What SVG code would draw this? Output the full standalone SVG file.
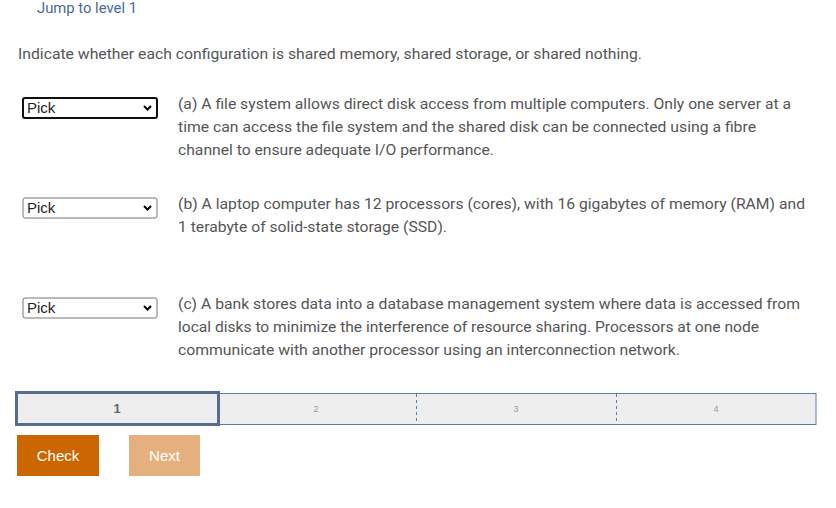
<svg xmlns="http://www.w3.org/2000/svg" width="836" height="508" viewBox="0 0 836 508">
<style>
.t{font-family:Roboto,"Liberation Sans",sans-serif;font-size:15px;fill:#555}
.s{font-family:"Liberation Sans",Arial,sans-serif;font-size:15px;fill:#222}
.sel{fill:#fff;stroke:#767676;stroke-width:1}
.chev{fill:none;stroke:#000;stroke-width:2}
.pg{font-family:"Liberation Sans",sans-serif;font-size:9px;fill:#999;text-anchor:middle}
</style>
<rect width="836" height="508" fill="#fff"/>
<text x="37" y="13" class="t" style="fill:#4a6a9a;font-size:14px" textLength="100" lengthAdjust="spacingAndGlyphs">Jump to level 1</text>
<text x="18" y="59" class="t" textLength="624" lengthAdjust="spacingAndGlyphs">Indicate whether each configuration is shared memory, shared storage, or shared nothing.</text>
<g id="qa">
<rect x="23" y="98" width="134" height="20" rx="2" class="sel" style="stroke:#111;stroke-width:2"/>
<text x="27" y="113" class="s">Pick</text><path d="M144 106l3.5 3.5 3.5-3.5" class="chev"/>
<text x="178" y="109" class="t" textLength="613" lengthAdjust="spacingAndGlyphs">(a) A file system allows direct disk access from multiple computers. Only one server at a</text>
<text x="178" y="132" class="t" textLength="578" lengthAdjust="spacingAndGlyphs">time can access the file system and the shared disk can be connected using a fibre</text>
<text x="178" y="155" class="t" textLength="316" lengthAdjust="spacingAndGlyphs">channel to ensure adequate I/O performance.</text>
</g>
<g id="qb">
<rect x="23" y="198" width="134" height="20" rx="2" class="sel"/>
<text x="27" y="213" class="s">Pick</text><path d="M144 206l3.5 3.5 3.5-3.5" class="chev"/>
<text x="178" y="209" class="t" textLength="627" lengthAdjust="spacingAndGlyphs">(b) A laptop computer has 12 processors (cores), with 16 gigabytes of memory (RAM) and</text>
<text x="178" y="232" class="t" textLength="269" lengthAdjust="spacingAndGlyphs">1 terabyte of solid-state storage (SSD).</text>
</g>
<g id="qc">
<rect x="23" y="298" width="134" height="20" rx="2" class="sel"/>
<text x="27" y="313" class="s">Pick</text><path d="M144 306l3.5 3.5 3.5-3.5" class="chev"/>
<text x="178" y="309" class="t" textLength="622" lengthAdjust="spacingAndGlyphs">(c) A bank stores data into a database management system where data is accessed from</text>
<text x="178" y="332" class="t" textLength="581" lengthAdjust="spacingAndGlyphs">local disks to minimize the interference of resource sharing. Processors at one node</text>
<text x="178" y="355" class="t" textLength="502" lengthAdjust="spacingAndGlyphs">communicate with another processor using an interconnection network.</text>
</g>
<g id="progress">
<rect x="218" y="393.5" width="598" height="31" fill="#eee" stroke="#5a7fae" stroke-width="1"/>
<line x1="416.5" y1="394" x2="416.5" y2="424" stroke="#5a7fae" stroke-dasharray="3,3"/>
<line x1="616.5" y1="394" x2="616.5" y2="424" stroke="#5a7fae" stroke-dasharray="3,3"/>
<rect x="16.5" y="392.5" width="202" height="32" fill="#eee" stroke="#576d8d" stroke-width="3"/>
<text x="117" y="413" class="pg" style="font-size:13px;fill:#666;font-weight:bold">1</text>
<text x="316" y="412" class="pg">2</text>
<text x="516" y="412" class="pg">3</text>
<text x="716" y="412" class="pg">4</text>
</g>
<g id="check"><rect x="17" y="435" width="82" height="41" fill="#cc6600"/>
<text x="58" y="461" class="s" style="fill:#fff;text-anchor:middle">Check</text></g>
<g id="next"><rect x="129" y="435" width="71" height="41" fill="#e6b07e"/>
<text x="164.5" y="461" class="s" style="fill:#fff;text-anchor:middle">Next</text></g>
</svg>
